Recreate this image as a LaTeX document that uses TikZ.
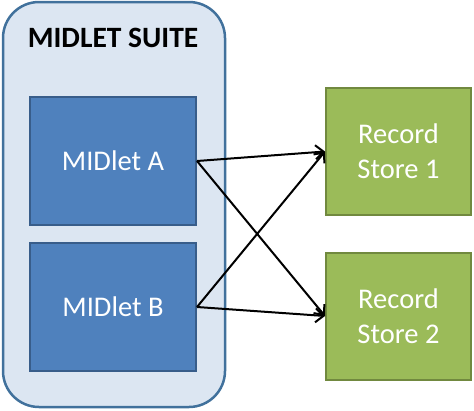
\documentclass[tikz,border=0pt]{standalone}
\usepackage{fontspec}
\setmainfont{Carlito}
\usetikzlibrary{arrows.meta}
\definecolor{suitefill}{HTML}{DCE6F2}
\definecolor{suiteline}{HTML}{41719C}
\definecolor{midfill}{HTML}{4F81BD}
\definecolor{midline}{HTML}{385D8A}
\definecolor{rsfill}{HTML}{9BBB59}
\definecolor{rsline}{HTML}{71893F}
\tikzset{
  suitebox/.style={draw=suiteline, fill=suitefill, line width=2.5pt, rounded corners=36pt},
  midbox/.style={draw=midline, fill=midfill, line width=2pt, text=white, font=\fontsize{28.5}{32}\selectfont, minimum width=166pt, minimum height=128pt, inner sep=0pt},
  rsbox/.style={draw=rsline, fill=rsfill, line width=2pt, text=white, font=\fontsize{28.5}{35}\selectfont, align=center, minimum width=145pt, minimum height=127pt, inner sep=0pt},
  link/.style={line width=2pt, -{Straight Barb[length=8pt,width=14pt,line width=2pt]}}
}
\begin{document}
\begin{tikzpicture}[x=1pt,y=-1pt]
\useasboundingbox (0,0) rectangle (474,410);
\draw[suitebox] (3,2) rectangle (225,407);
\node[font=\bfseries\fontsize{29.5}{32}\selectfont] (title) at (113,38) {MIDLET SUITE};
\node[midbox] (a) at (113,161) {MIDlet A};
\node[midbox] (b) at (113,307) {MIDlet B};
\node[rsbox] (r1) at (398.5,151.5) {Record\\Store 1};
\node[rsbox] (r2) at (398.5,316) {Record\\Store 2};
\draw[link] (a.east) -- (r1.west);
\draw[link] (a.east) -- (r2.west);
\draw[link] (b.east) -- (r1.west);
\draw[link] (b.east) -- (r2.west);
\end{tikzpicture}
\end{document}
